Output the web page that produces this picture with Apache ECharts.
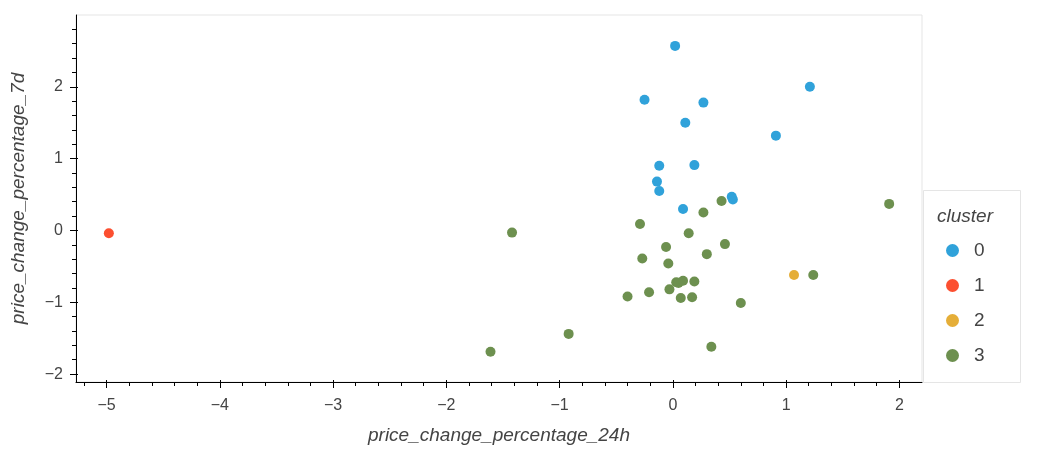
<!DOCTYPE html>
<html>
<head>
<meta charset="utf-8">
<script src="https://cdn.jsdelivr.net/npm/echarts@6/dist/echarts.min.js"></script>
<style>
html,body{margin:0;padding:0;background:#fff;}
#chart{width:1050px;height:450px;}
</style>
</head>
<body>
<div id="chart"></div>
<script>
// ---- data ----
const clusterNames = ['0', '1', '2', '3'];
const clusterColors = ['#30a2da', '#fc4f30', '#e5ae38', '#6d904f'];

const cluster0 = [
  [0.02, 2.57], [-0.25, 1.82], [0.27, 1.78], [1.21, 2.00], [0.11, 1.50],
  [0.91, 1.32], [-0.12, 0.90], [0.19, 0.91], [-0.14, 0.68], [-0.12, 0.55],
  [0.09, 0.30], [0.52, 0.47], [0.53, 0.43]
];
const cluster1 = [[-4.98, -0.04]];
const cluster2 = [[1.07, -0.62]];
const cluster3 = [
  [-1.42, -0.03], [-0.29, 0.09], [0.27, 0.25], [0.43, 0.41], [0.14, -0.04],
  [-0.06, -0.23], [0.46, -0.19], [-0.27, -0.39], [-0.04, -0.46], [0.30, -0.33],
  [1.24, -0.62], [0.03, -0.72], [0.05, -0.73], [0.09, -0.70], [0.19, -0.71],
  [-0.03, -0.82], [-0.21, -0.86], [-0.40, -0.92], [0.07, -0.94], [0.17, -0.93],
  [0.60, -1.01], [-0.92, -1.44], [-1.61, -1.69], [0.34, -1.62], [1.91, 0.37]
];
const clusterData = [cluster0, cluster1, cluster2, cluster3];

const xTicks = [-5, -4, -3, -2, -1, 0, 1, 2];
const yTicks = [-2, -1, 0, 1, 2];
const xRange = [-5.27, 2.2];
const yRange = [-2.11, 3.0];
const xTitle = 'price_change_percentage_24h';
const yTitle = 'price_change_percentage_7d';
const legendTitle = 'cluster';

// ---- chart ----
const FONT = '"Liberation Sans", Arial, Helvetica, sans-serif';
const fmt = v => String(v).replace('-', '\u2212');

const chart = echarts.init(document.getElementById('chart'), null, {renderer: 'canvas'});

const mainAxisCommon = {
  type: 'value',
  splitLine: {show: false},
  minorSplitLine: {show: false},
  axisLine: {show: true, onZero: false, lineStyle: {color: '#000', width: 1}},
  minorTick: {show: true, splitNumber: 5, length: 4, lineStyle: {color: '#000', width: 1}},
};
const overlayCommon = {
  type: 'value',
  splitLine: {show: false},
  minorSplitLine: {show: false},
  axisLine: {show: false, onZero: false},
  axisLabel: {show: false},
  minorTick: {show: false},
};

chart.setOption({
  animation: false,
  backgroundColor: '#fff',
  textStyle: {fontFamily: FONT},
  grid: {
    left: 76, right: 128, top: 15, bottom: 67,
    show: true, borderColor: '#e5e5e5', borderWidth: 1, backgroundColor: 'transparent',
    containLabel: false
  },
  title: {
    text: legendTitle,
    left: 937, top: 207, padding: 0,
    textStyle: {fontFamily: FONT, fontStyle: 'italic', fontWeight: 'normal', fontSize: 19, color: '#444'}
  },
  graphic: [{
    type: 'rect', left: 923, top: 190, z: -1,
    shape: {width: 97, height: 192},
    style: {fill: '#fff', stroke: '#e5e5e5', lineWidth: 1}
  }],
  legend: {
    orient: 'vertical',
    left: 946, top: 241,
    padding: 0,
    itemWidth: 13, itemHeight: 13, itemGap: 16,
    icon: 'circle',
    data: clusterNames,
    textStyle: {fontFamily: FONT, fontSize: 19, color: '#444', padding: [0, 0, 0, 10]}
  },
  xAxis: [
    Object.assign({}, mainAxisCommon, {
      min: xRange[0], max: xRange[1], splitNumber: 7, position: 'bottom',
      name: xTitle, nameLocation: 'middle', nameGap: 44,
      nameTextStyle: {fontFamily: FONT, fontStyle: 'italic', fontSize: 19, color: '#444'},
      axisTick: {show: true, inside: false, length: 6, customValues: xTicks, lineStyle: {color: '#000', width: 1}},
      axisLabel: {show: true, customValues: xTicks, margin: 16, fontSize: 16, color: '#444', fontFamily: FONT, formatter: fmt}
    }),
    Object.assign({}, overlayCommon, {
      min: xRange[0], max: xRange[1], splitNumber: 7, position: 'bottom', offset: 0,
      axisTick: {show: true, inside: true, length: 2, customValues: xTicks, lineStyle: {color: '#000', width: 1}}
    })
  ],
  yAxis: [
    Object.assign({}, mainAxisCommon, {
      min: yRange[0], max: yRange[1], splitNumber: 5, position: 'left',
      name: yTitle, nameLocation: 'middle', nameGap: 48,
      nameTextStyle: {fontFamily: FONT, fontStyle: 'italic', fontSize: 19, color: '#444'},
      axisTick: {show: true, inside: false, length: 6, customValues: yTicks, lineStyle: {color: '#000', width: 1}},
      axisLabel: {show: true, customValues: yTicks, margin: 13, fontSize: 16, color: '#444', fontFamily: FONT, formatter: fmt, padding: [4, 0, 0, 0]}
    }),
    Object.assign({}, overlayCommon, {
      min: yRange[0], max: yRange[1], splitNumber: 5, position: 'left', offset: 0,
      axisTick: {show: true, inside: true, length: 2, customValues: yTicks, lineStyle: {color: '#000', width: 1}}
    })
  ],
  series: clusterNames.map((name, i) => ({
    name: name,
    type: 'scatter',
    xAxisIndex: 0, yAxisIndex: 0,
    data: clusterData[i],
    symbol: 'circle',
    symbolSize: 10,
    itemStyle: {color: clusterColors[i], opacity: 1},
    emphasis: {disabled: true}
  }))
});
</script>
</body>
</html>
